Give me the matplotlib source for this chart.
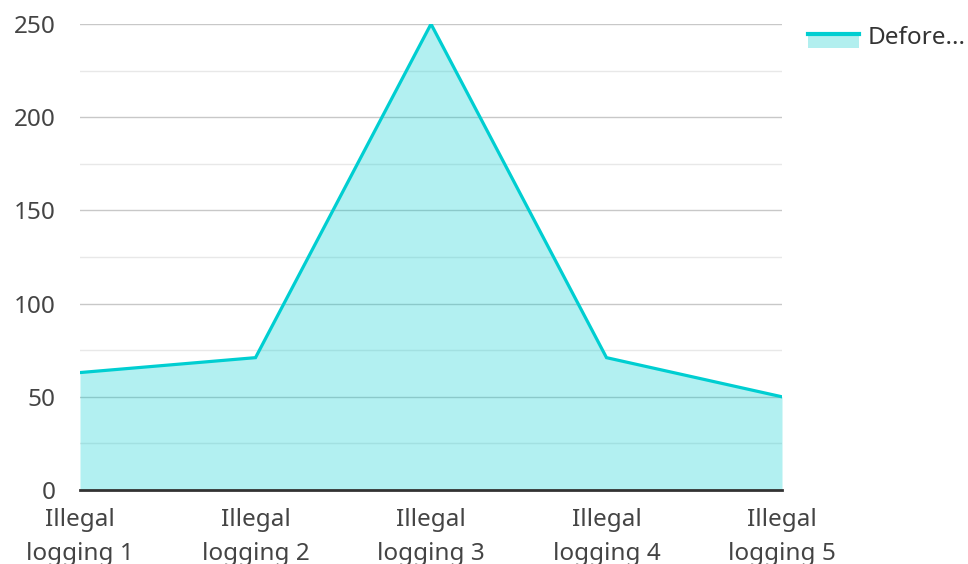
import matplotlib
matplotlib.use("Agg")
import matplotlib.pyplot as plt
from matplotlib.patches import Patch, Rectangle
from matplotlib.lines import Line2D
from matplotlib.legend_handler import HandlerBase

categories = ["Illegal\nlogging 1", "Illegal\nlogging 2", "Illegal\nlogging 3", "Illegal\nlogging 4", "Illegal\nlogging 5"]
values = [63, 71, 250, 71, 50]
series_name = "Defore..."
yticks = [0, 50, 100, 150, 200, 250]

plt.rcParams['font.family'] = ['Noto Sans', 'DejaVu Sans']

line_color = "#00CED1"
fill_color = "#B2EFEF"

fig = plt.figure(figsize=(9.68, 5.64), dpi=100)
ax = fig.add_axes([80/968, 1-490/564, (782-80)/968, (490-24)/564])

x = list(range(len(categories)))
ax.fill_between(x, values, 0, color=line_color, alpha=0.3, linewidth=0, zorder=3)
ax.plot(x, values, color=line_color, linewidth=2.3, zorder=4, solid_joinstyle='miter')

ax.set_xlim(0, len(categories)-1)
ax.set_ylim(0, 250)
ax.set_yticks(yticks)
ax.set_yticks([25, 75, 125, 175, 225], minor=True)
ax.grid(True, which='major', axis='y', color='#c8c8c8', linewidth=1, zorder=1)
ax.grid(True, which='minor', axis='y', color='#e8e8e8', linewidth=1, zorder=1)
ax.set_xticks(x)
ax.set_xticklabels(categories)
ax.tick_params(axis='both', which='both', length=0)
ax.tick_params(axis='both', labelsize=17.5, labelcolor='#444444')
ax.tick_params(axis='x', pad=13)
ax.tick_params(axis='y', pad=17.5)
for s in ['top', 'right', 'left']:
    ax.spines[s].set_visible(False)
ax.spines['bottom'].set_color('#333333')
ax.spines['bottom'].set_linewidth(2)
ax.spines['bottom'].set_zorder(5)
for lbl in ax.get_xticklabels():
    lbl.set_linespacing(1.55)


class AreaHandler(HandlerBase):
    def create_artists(self, legend, orig_handle, xdescent, ydescent, width, height, fontsize, trans):
        y0 = -ydescent - 3.6
        top = y0 + height * 0.9
        r = Rectangle((-xdescent, y0), width, height*0.9, facecolor=fill_color, edgecolor='none', transform=trans)
        l = Line2D([-xdescent, -xdescent+width], [top, top], color=line_color, linewidth=3, transform=trans)
        return [r, l]

handle = Patch(facecolor=fill_color)
fig.legend([handle], [series_name], handler_map={Patch: AreaHandler()},
           loc='upper left', bbox_to_anchor=(786/968, 1-4/564), frameon=False,
           fontsize=17.5, handlelength=2.1, handleheight=0.65, handletextpad=0.35,
           labelcolor='#333333')

fig.savefig("out.png", dpi=100)
